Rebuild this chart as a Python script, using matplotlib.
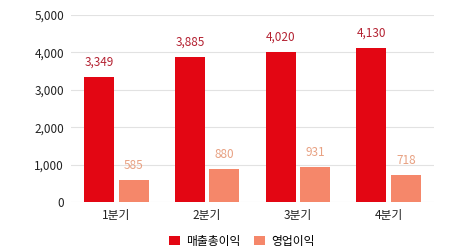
import numpy as np
from matplotlib import pyplot as plt

plt.rcParams['font.family'] = ['Noto Sans CJK KR', 'DejaVu Sans']

# Data
quarters = ['1분기', '2분기', '3분기', '4분기']
gross_profit = [3349, 3885, 4020, 4130]
operating_profit = [585, 880, 931, 718]
series_names = ['매출총이익', '영업이익']

RED = '#e30613'
SALMON = '#f5876a'
RED_TEXT = '#b42232'
SALMON_TEXT = '#e8a182'
FS = 8.5

fig = plt.figure(figsize=(4.74, 2.48), dpi=100)
ax = fig.add_axes([71 / 474, 1 - 202 / 248, 363 / 474, 187 / 248])

x = np.arange(len(quarters))
w = 0.33
off = 0.19
b1 = ax.bar(x - off, gross_profit, w, color=RED, label=series_names[0], zorder=3)
b2 = ax.bar(x + off, operating_profit, w, color=SALMON, label=series_names[1], zorder=3)

for rect, v in zip(b1, gross_profit):
    ax.annotate(f'{v:,}', (rect.get_x() + rect.get_width() / 2, v),
                xytext=(0, 8), textcoords='offset pixels',
                ha='center', va='bottom', fontsize=FS, color=RED_TEXT)
for rect, v in zip(b2, operating_profit):
    ax.annotate(f'{v:,}', (rect.get_x() + rect.get_width() / 2, v),
                xytext=(0, 8), textcoords='offset pixels',
                ha='center', va='bottom', fontsize=FS, color=SALMON_TEXT)

ax.set_xlim(-0.5, 3.5)
ax.set_ylim(0, 5000)
ax.set_yticks(range(0, 5001, 1000))
ax.set_yticklabels([f'{t:,}' for t in range(0, 5001, 1000)])
ax.set_xticks(x)
ax.set_xticklabels(quarters)
ax.yaxis.grid(True, color='#e2e2e2', linewidth=0.8, zorder=0)
for s in ax.spines.values():
    s.set_visible(False)
ax.tick_params(axis='both', length=0, labelsize=FS, colors='#222222')
ax.tick_params(axis='y', pad=5)
ax.tick_params(axis='x', pad=5)

fig.legend(loc='center', bbox_to_anchor=(0.51, 1 - 241 / 248), ncol=2,
           frameon=False, fontsize=FS, handlelength=0.9, handleheight=0.9,
           columnspacing=1.2, handletextpad=0.5)

fig.savefig('out.png', dpi=100)
